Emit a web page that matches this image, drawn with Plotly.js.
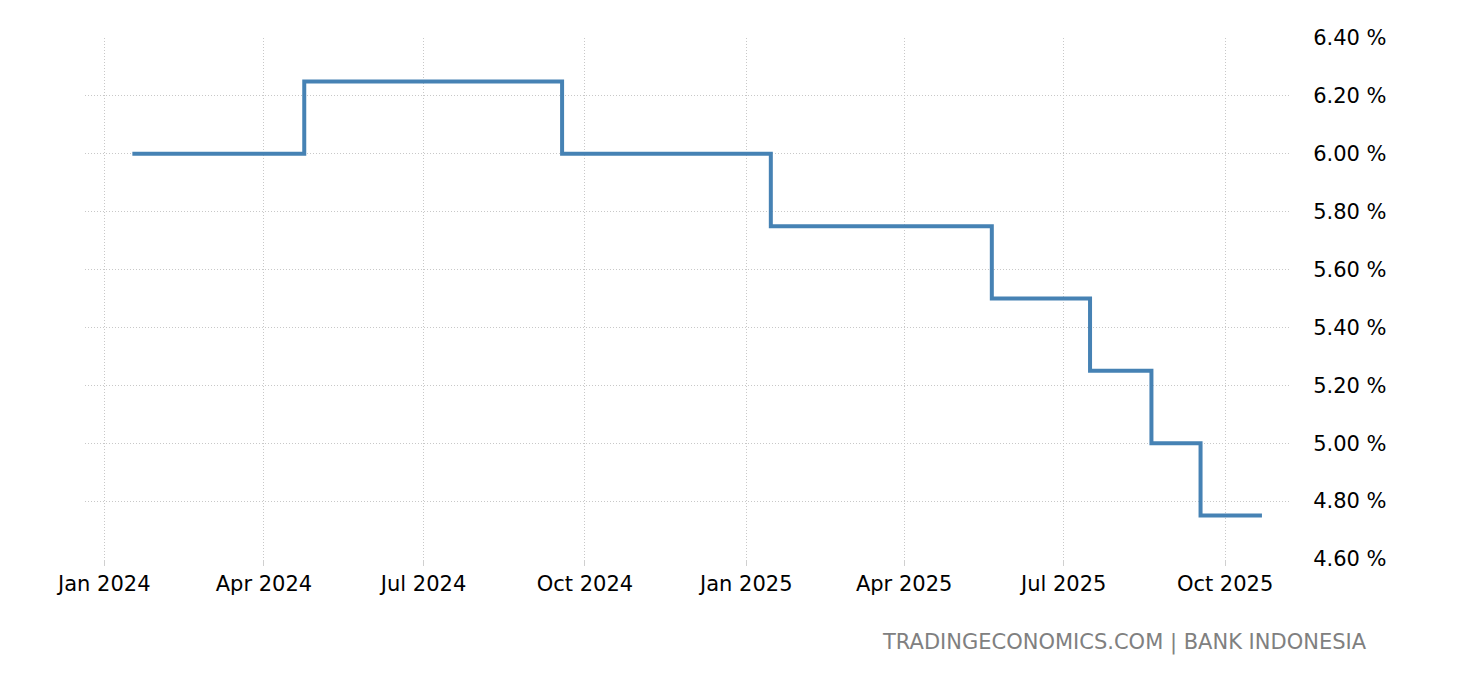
<!DOCTYPE html>
<html>
<head>
<meta charset="utf-8">
<script src="https://cdn.plot.ly/plotly-3.0.1.min.js"></script>
<style>
html,body{margin:0;padding:0;background:#fff;}
#chart{width:1460px;height:680px;}
</style>
</head>
<body>
<div id="chart"></div>
<script>
const dates = ['2024-01-17','2024-02-21','2024-03-20','2024-04-24','2024-05-22','2024-06-20','2024-07-17','2024-08-21','2024-09-18','2024-10-16','2024-11-20','2024-12-18','2025-01-15','2025-02-19','2025-03-19','2025-04-23','2025-05-21','2025-06-18','2025-07-16','2025-08-20','2025-09-17','2025-10-22'];
const rates = [6.00,6.00,6.00,6.25,6.25,6.25,6.25,6.25,6.00,6.00,6.00,6.00,5.75,5.75,5.75,5.75,5.50,5.50,5.25,5.00,4.75,4.75];
const tickDates = ['2024-01-01','2024-04-01','2024-07-01','2024-10-01','2025-01-01','2025-04-01','2025-07-01','2025-10-01'];
const tickLabels = ['Jan 2024','Apr 2024','Jul 2024','Oct 2024','Jan 2025','Apr 2025','Jul 2025','Oct 2025'];
const yTicks = [4.6,4.8,5.0,5.2,5.4,5.6,5.8,6.0,6.2,6.4];
const yTickLabels = ['4.60 %','4.80 %','5.00 %','5.20 %','5.40 %','5.60 %','5.80 %','6.00 %','6.20 %','6.40 %'];
const sourceText = 'TRADINGECONOMICS.COM | BANK INDONESIA';

const trace = {
  x: dates, y: rates, type: 'scatter', mode: 'lines',
  line: {shape: 'hv', color: '#4682b4', width: 4},
  hoverinfo: 'x+y'
};
const layout = {
  width: 1460, height: 680,
  margin: {l: 85, r: 170, t: 38, b: 121},
  paper_bgcolor: '#fff', plot_bgcolor: '#fff',
  font: {family: 'DejaVu Sans, sans-serif', size: 21, color: '#000'},
  showlegend: false,
  xaxis: {
    type: 'date', range: ['2023-12-21', '2025-11-07'],
    tickmode: 'array', tickvals: tickDates, ticktext: tickLabels,
    showgrid: true, gridcolor: '#c8c8c8', griddash: '1px,2px', gridwidth: 1,
    ticks: 'outside', ticklen: 6, tickcolor: '#d0d0d0', tickwidth: 1,
    zeroline: false, showline: false,
    tickfont: {size: 21, color: '#000'}
  },
  yaxis: {
    side: 'right', range: [4.6, 6.4],
    tickmode: 'array', tickvals: yTicks, ticktext: yTickLabels,
    showgrid: true, gridcolor: '#c8c8c8', griddash: '1px,2px', gridwidth: 1,
    ticks: 'outside', ticklen: 18, tickcolor: 'rgba(0,0,0,0)',
    zeroline: false, showline: false,
    tickfont: {size: 21, color: '#000'}
  },
  annotations: [{
    text: sourceText, xref: 'paper', yref: 'paper',
    x: (1369-85)/(1460-85-170), y: -(642-559)/(680-38-121),
    xanchor: 'right', yanchor: 'middle', showarrow: false,
    font: {size: 21, color: '#808080', family: 'DejaVu Sans, sans-serif'}
  }]
};
Plotly.newPlot('chart', [trace], layout, {displayModeBar: false, staticPlot: true});
</script>
</body>
</html>
